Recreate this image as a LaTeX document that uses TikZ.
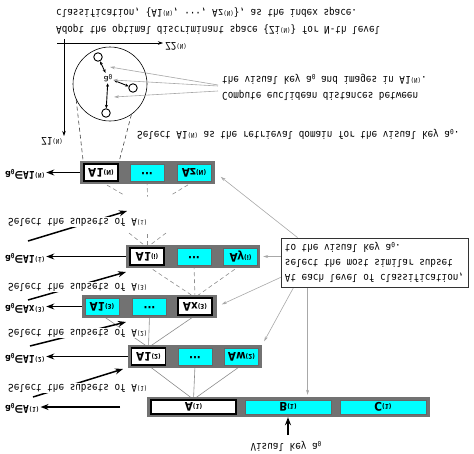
\documentclass[tikz,border=0pt]{standalone}
\usepackage{fontspec}
\usetikzlibrary{arrows.meta,calc,backgrounds}
\setmainfont{DejaVu Sans Mono}
\newfontfamily\djs{DejaVu Sans}
\definecolor{barg}{HTML}{727272}
\definecolor{lgr}{HTML}{A8A8A8}
\definecolor{cong}{HTML}{8C8C8C}
\definecolor{cy}{HTML}{00FFFF}
\newcommand\fl[1]{\scalebox{1}[-1.13]{#1}}
\newcommand\up[1]{\raisebox{1.8pt}{\fontsize{5.8}{6}\selectfont #1}}
\newcommand\dn[1]{\raisebox{-1.8pt}{\fontsize{6.2}{6}\selectfont #1}}
\newcommand\inn{{\djs\bfseries ∈}}
\begin{document}
\begin{tikzpicture}[x=1pt,y=-1pt,
  txt/.style={font=\fontsize{9.3}{12}\selectfont, inner sep=1pt},
  lab/.style={font=\bfseries\fontsize{9.5}{11}\selectfont, inner sep=1pt, anchor=west},
  seltxt/.style={txt, fill=white, anchor=west},
  bar/.style={fill=barg, inner sep=0pt},
  box/.style={minimum width=34pt, minimum height=17pt, inner sep=0pt, font=\djs\bfseries\fontsize{10.5}{11}\selectfont},
  wbox/.style={box, fill=white, draw=black, line width=1.2pt},
  cbox/.style={box, fill=cy, draw=black!60, line width=0.5pt},
  conn/.style={draw=cong, line width=0.6pt},
  dconn/.style={conn, dash pattern=on 4pt off 3pt},
  cdash/.style={draw=black!75, line width=0.6pt, dash pattern=on 4pt off 3pt},
  garrow/.style={draw=lgr, line width=0.6pt, -{Stealth[length=5pt,width=3pt]}},
  barrow/.style={draw=black, line width=1.5pt, -{Stealth[length=8pt,width=6pt]}},
  karrow/.style={draw=black, line width=0.9pt, {Stealth[length=3.5pt,width=3pt]}-{Stealth[length=3.5pt,width=3pt]}},
  axis/.style={draw=black, line width=0.6pt, -{Stealth[length=5pt,width=3.5pt]}},
  sc/.style={draw=black, circle, minimum size=8.5pt, inner sep=0pt, line width=0.9pt}
]
\useasboundingbox (0,0) rectangle (474,453);

% ---------- top texts ----------
\node[txt, anchor=west] (cls) at (55,12) {\fl{classification, \{A1\up{(N)}, ···, Az\up{(N)}\}, as the index space.}};
\node[txt, anchor=west] (adopt) at (55,29) {\fl{Adopt the optimal discriminant space \{Zi\up{(N)}\} for N-th level}};

% ---------- axes ----------
\coordinate (ox) at (57,43);
\coordinate (xe) at (163,43);
\coordinate (oy) at (64,39);
\coordinate (ye) at (64,136);
\draw[axis] (ox) -- (xe);
\draw[axis] (oy) -- (ye);
\node[txt, anchor=west] (z2) at (164,46) {\fl{Z2\up{(N)}}};
\node[txt] (z1) at (52,141) {\fl{Z1\up{(N)}}};

% ---------- feature space circle ----------
\node[draw=black, circle, minimum size=74pt, inner sep=0pt, line width=0.6pt] (cz) at (110,84) {};
\node[sc] (c1) at (98,57) {};
\node[sc] (c2) at (133,88) {};
\node[sc] (c3) at (106,113) {};
\node[font=\fontsize{8.5}{9}\selectfont, inner sep=0.8pt] (a0) at (108,78) {\fl{a\dn{0}}};
\draw[karrow, shorten <=0.5pt] (a0) -- (c1);
\draw[karrow, shorten <=0.5pt] (a0) -- (c2);
\draw[karrow, shorten <=0.5pt] (a0) -- (c3);

% ---------- compute text ----------
\node[txt, anchor=west] (cmp) at (221,88) {\fl{\fontsize{9.3}{14.2}\selectfont\begin{tabular}{@{}l@{}}Compute euclidean distances between\\ the visual key a\dn{0} and images in A1\up{(N)}.\end{tabular}}};
\coordinate (t1) at (110,67);
\coordinate (t2) at (113,80);
\coordinate (t3) at (114,97);
\draw[garrow] ($(cmp.west)+(-3,-3)$) -- (t1);
\draw[garrow] ($(cmp.west)+(-3,-2)$) -- (t2);
\draw[garrow] ($(cmp.west)+(-3,3)$) -- (t3);

\node[txt, anchor=west] (selN) at (136,134) {\fl{Select A1\up{(N)} as the retrieval domain for the visual key a\dn{0}.}};

% ---------- level N ----------
\node[bar, minimum width=135pt, minimum height=23pt] (barN) at (147.5,172.5) {};
\node[wbox] (nA) at (101,172.5) {\fl{A1\up{(N)}}};
\node[cbox] (nB) at (147,172.5) {\fl{···}};
\node[cbox] (nC) at (194,172.5) {\fl{Az\up{(N)}}};

% ---------- level i ----------
\node[bar, minimum width=134pt, minimum height=23pt] (barI) at (193,256.5) {};
\node[wbox] (iA) at (147,256.5) {\fl{A1\up{(i)}}};
\node[cbox] (iB) at (194,256.5) {\fl{···}};
\node[cbox] (iC) at (240.5,256.5) {\fl{Ay\up{(i)}}};

% ---------- level 3 ----------
\node[bar, minimum width=135pt, minimum height=23pt] (bar3) at (149.5,306.5) {};
\node[cbox] (tA) at (102,306.5) {\fl{A1\up{(3)}}};
\node[cbox] (tB) at (149.5,306.5) {\fl{···}};
\node[wbox] (tC) at (195,306.5) {\fl{Ax\up{(3)}}};

% ---------- level 2 ----------
\node[bar, minimum width=134pt, minimum height=23pt] (bar2) at (195,356.5) {};
\node[wbox] (wA) at (148.5,356.5) {\fl{A1\up{(2)}}};
\node[cbox] (wB) at (195,356.5) {\fl{···}};
\node[cbox] (wC) at (241.5,356.5) {\fl{Aw\up{(2)}}};

% ---------- level 1 ----------
\node[bar, minimum width=283pt, minimum height=20pt] (bar1) at (288.5,407) {};
\node[wbox, minimum width=85pt, minimum height=14pt] (oA) at (193.5,407) {\fl{A\up{(1)}}};
\node[cbox, minimum width=86pt, minimum height=14pt] (oB) at (288,407) {\fl{B\up{(1)}}};
\node[cbox, minimum width=86pt, minimum height=14pt] (oC) at (383,407) {\fl{C\up{(1)}}};

% ---------- left labels ----------
\node[lab] (eN) at (4,174) {\fl{a\dn{0}\inn A1\up{(N)}}};
\node[lab] (eI) at (4,258) {\fl{a\dn{0}\inn A1\up{(i)}}};
\node[lab] (e3) at (4,308) {\fl{a\dn{0}\inn Ax\up{(3)}}};
\node[lab] (e2) at (4,358) {\fl{a\dn{0}\inn A1\up{(2)}}};
\node[lab] (e1) at (4,408) {\fl{a\dn{0}\inn A\up{(1)}}};
\coordinate (s1) at (120,407);
\draw[barrow] (barN.west) -- (barN.west -| eN.east);
\draw[barrow] (barI.west) -- (barI.west -| eI.east);
\draw[barrow] (bar3.west) -- (bar3.west -| e3.east);
\draw[barrow] (bar2.west) -- (bar2.west -| e2.east);
\draw[barrow] (s1) -- (s1 -| e1.east);

% ---------- select texts ----------
\node[seltxt] (sI) at (7,222) {\fl{Select the subsets of A\up{(i)}}};
\node[seltxt] (s3) at (7,287) {\fl{Select the subsets of A\up{(3)}}};
\node[seltxt] (s2) at (7,333) {\fl{Select the subsets of A\up{(2)}}};
\node[seltxt] (s1t) at (7,388) {\fl{Select the subsets of A\up{(1)}}};

% ---------- info box ----------
\node[draw=black!80, line width=0.8pt, minimum width=187pt, minimum height=49pt, inner sep=0pt, txt] (info) at (374.5,262.5)
  {\fl{\fontsize{9.3}{13}\selectfont\begin{tabular}{@{}l@{}}At each level of classification,\\ select the most similar subset\\ to the visual key a\dn{0}.\end{tabular}}};

% ---------- visual key ----------
\node[txt] (vk) at (286,446) {\fl{Visual key a\dn{0}}};
\coordinate (vks) at (288,435);
\draw[barrow] (vks) -- (vks |- bar1.south);

% ---------- background connectors ----------
\begin{pgfonlayer}{background}
  \draw[cdash] (cz.205) -- (nA.north west);
  \draw[cdash] (cz.305) -- (nA.north east);
  \coordinate (fN) at (148,209);
  \draw[dconn] (nA.south) -- ($(nA.south)!0.5!(fN)$);
  \draw[dconn] (nB.south) -- ($(nB.south)!0.55!(fN)$);
  \draw[dconn] (nC.south) -- ($(nC.south)!0.5!(fN)$);
  \coordinate (fI1) at (129,233);
  \coordinate (fI2) at (147,234);
  \coordinate (fI3) at (166,233);
  \draw[dconn] (fI1) -- (iA.north);
  \draw[dconn] (fI2) -- (iA.north);
  \draw[dconn] (fI3) -- (iA.north);
  \draw[dconn] (iA.south) -- (tC.north);
  \draw[dconn] (iB.south) -- (tC.north);
  \draw[dconn] (iC.south) -- (tC.north);
  \draw[conn] (tA.south) -- (wA.north);
  \draw[conn] (tB.south) -- (wA.north);
  \draw[conn] (tC.south) -- (wA.north);
  \draw[conn] (wA.south) -- (oA.north);
  \draw[conn] (wB.south) -- (oA.north);
  \draw[conn] (wC.south) -- (oA.north);
  \coordinate (pa1) at (28,241);  \coordinate (pa2) at (127,211);
  \coordinate (pb1) at (28,300);  \coordinate (pb2) at (126,272);
  \coordinate (pc1) at (30,346);  \coordinate (pc2) at (126,322);
  \coordinate (pd1) at (33,397);  \coordinate (pd2) at (123,369);
  \draw[barrow] (pa1) -- (pa2);
  \draw[barrow] (pb1) -- (pb2);
  \draw[barrow] (pc1) -- (pc2);
  \draw[barrow] (pd1) -- (pd2);
  \coordinate (q1) at ($(info.north west)+(17,0)$);
  \coordinate (q3) at ($(info.south west)+(0,-10)$);
  \coordinate (q4) at ($(info.south west)+(13,0)$);
  \coordinate (q5) at ($(info.south west)+(27,0)$);
  \draw[garrow, shorten >=7pt] (q1) -- (barN.east);
  \draw[garrow, shorten >=3pt] (info.west |- iC) -- (barI.east);
  \draw[garrow, shorten >=5pt] (q3) -- (bar3.east);
  \draw[garrow, shorten >=4pt] (q4) -- (bar2.north east);
  \draw[garrow, shorten >=2pt] (q5) -- (q5 |- bar1.north);
\end{pgfonlayer}
\end{tikzpicture}
\end{document}
